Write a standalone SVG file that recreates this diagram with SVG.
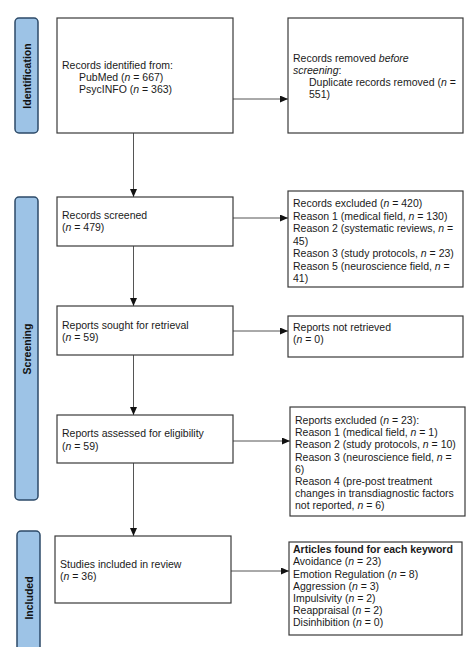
<svg xmlns="http://www.w3.org/2000/svg" width="474" height="647" viewBox="0 0 474 647">
<defs>
<marker id="arr" markerUnits="userSpaceOnUse" markerWidth="8" markerHeight="7" refX="8" refY="3.5" orient="auto">
<path d="M0,0 L8,3.5 L0,7 z" fill="#111"/>
</marker>
<style>
.box{fill:#fff;stroke:#3a3a3a;stroke-width:1.2}
.side{fill:#9dc3e6;stroke:#2c4a68;stroke-width:1.5}
.t{font-family:"Liberation Sans",Arial,sans-serif;font-size:10.5px;fill:#1a1a1a}
.lab{font-family:"Liberation Sans",Arial,sans-serif;font-size:10.5px;font-weight:bold;fill:#111;text-anchor:middle}
.c{stroke:#555;stroke-width:1;fill:none}
.i{font-style:italic}
</style>
</defs>
<rect width="474" height="647" fill="#fff"/>

<g id="side-identification">
<rect class="side" x="15" y="18" width="23" height="115" rx="4"/>
<text class="lab" transform="translate(30.5,76) rotate(-90)">Identification</text>
</g>
<g id="side-screening">
<rect class="side" x="15" y="197" width="23" height="303" rx="4"/>
<text class="lab" transform="translate(30.5,349) rotate(-90)">Screening</text>
</g>
<g id="side-included">
<rect class="side" x="17" y="531" width="23" height="130" rx="4"/>
<text class="lab" transform="translate(32.5,598) rotate(-90)">Included</text>
</g>

<g id="connectors">
<line class="c" x1="133.5" y1="133" x2="133.5" y2="197" marker-end="url(#arr)"/>
<line class="c" x1="133.5" y1="246" x2="133.5" y2="306" marker-end="url(#arr)"/>
<line class="c" x1="133.5" y1="355" x2="133.5" y2="415" marker-end="url(#arr)"/>
<line class="c" x1="133.5" y1="463" x2="133.5" y2="536" marker-end="url(#arr)"/>
<line class="c" x1="233" y1="99" x2="288" y2="99" marker-end="url(#arr)"/>
<line class="c" x1="233" y1="218" x2="288" y2="218" marker-end="url(#arr)"/>
<line class="c" x1="233" y1="331" x2="288" y2="331" marker-end="url(#arr)"/>
<line class="c" x1="233" y1="441" x2="290" y2="441" marker-end="url(#arr)"/>
<line class="c" x1="231" y1="571" x2="289" y2="571" marker-end="url(#arr)"/>
</g>

<g id="records-identified">
<rect class="box" x="57" y="18" width="176" height="115"/>
<text class="t" x="62" y="69">Records identified from:</text>
<text class="t" x="79" y="81">PubMed (<tspan class="i">n</tspan> = 667)</text>
<text class="t" x="79" y="93">PsycINFO (<tspan class="i">n</tspan> = 363)</text>
</g>

<g id="records-removed">
<rect class="box" x="288" y="18" width="175" height="115"/>
<text class="t" x="293" y="62">Records removed <tspan class="i">before</tspan></text>
<text class="t" x="293" y="74"><tspan class="i">screening</tspan>:</text>
<text class="t" x="309" y="86">Duplicate records removed (<tspan class="i">n</tspan> =</text>
<text class="t" x="309" y="98">551)</text>
</g>

<g id="records-screened">
<rect class="box" x="57" y="197" width="176" height="49"/>
<text class="t" x="62" y="219">Records screened</text>
<text class="t" x="62" y="231">(<tspan class="i">n</tspan> = 479)</text>
</g>

<g id="records-excluded">
<rect class="box" x="288" y="191" width="175" height="96"/>
<text class="t" x="293" y="207">Records excluded (<tspan class="i">n</tspan> = 420)</text>
<text class="t" x="293" y="219.5">Reason 1 (medical field, <tspan class="i">n</tspan> = 130)</text>
<text class="t" x="293" y="232">Reason 2 (systematic reviews, <tspan class="i">n</tspan> =</text>
<text class="t" x="293" y="244.5">45)</text>
<text class="t" x="293" y="257">Reason 3 (study protocols, <tspan class="i">n</tspan> = 23)</text>
<text class="t" x="293" y="269.5">Reason 5 (neuroscience field, <tspan class="i">n</tspan> =</text>
<text class="t" x="293" y="282">41)</text>
</g>

<g id="reports-sought">
<rect class="box" x="57" y="306" width="176" height="49"/>
<text class="t" x="62" y="329">Reports sought for retrieval</text>
<text class="t" x="62" y="341">(<tspan class="i">n</tspan> = 59)</text>
</g>

<g id="reports-not-retrieved">
<rect class="box" x="288" y="316" width="175" height="41"/>
<text class="t" x="293" y="331">Reports not retrieved</text>
<text class="t" x="293" y="343">(<tspan class="i">n</tspan> = 0)</text>
</g>

<g id="reports-assessed">
<rect class="box" x="57" y="415" width="176" height="48"/>
<text class="t" x="62" y="437">Reports assessed for eligibility</text>
<text class="t" x="62" y="449.5">(<tspan class="i">n</tspan> = 59)</text>
</g>

<g id="reports-excluded">
<rect class="box" x="290" y="407" width="175" height="109"/>
<text class="t" x="295" y="424">Reports excluded (<tspan class="i">n</tspan> = 23):</text>
<text class="t" x="295" y="436">Reason 1 (medical field, <tspan class="i">n</tspan> = 1)</text>
<text class="t" x="295" y="448">Reason 2 (study protocols, <tspan class="i">n</tspan> = 10)</text>
<text class="t" x="295" y="460.5">Reason 3 (neuroscience field, <tspan class="i">n</tspan> =</text>
<text class="t" x="295" y="472.5">6)</text>
<text class="t" x="295" y="484.5">Reason 4 (pre-post treatment</text>
<text class="t" x="295" y="496.5">changes in transdiagnostic factors</text>
<text class="t" x="295" y="508.5">not reported, <tspan class="i">n</tspan> = 6)</text>
</g>

<g id="studies-included">
<rect class="box" x="55" y="536" width="176" height="67"/>
<text class="t" x="60" y="567.5">Studies included in review</text>
<text class="t" x="60" y="579.5">(<tspan class="i">n</tspan> = 36)</text>
</g>

<g id="keywords">
<rect class="box" x="289" y="542" width="173" height="93"/>
<text class="t" x="293" y="553" font-weight="bold">Articles found for each keyword</text>
<text class="t" x="293" y="565">Avoidance (<tspan class="i">n</tspan> = 23)</text>
<text class="t" x="293" y="577.5">Emotion Regulation (<tspan class="i">n</tspan> = 8)</text>
<text class="t" x="293" y="589.5">Aggression (<tspan class="i">n</tspan> = 3)</text>
<text class="t" x="293" y="602">Impulsivity (<tspan class="i">n</tspan> = 2)</text>
<text class="t" x="293" y="614">Reappraisal (<tspan class="i">n</tspan> = 2)</text>
<text class="t" x="293" y="626">Disinhibition (<tspan class="i">n</tspan> = 0)</text>
</g>
</svg>
